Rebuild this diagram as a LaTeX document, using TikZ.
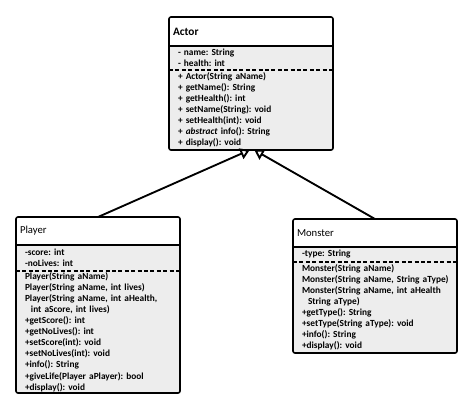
\documentclass[tikz,border=0pt]{standalone}
\usepackage{fontspec}
\setmainfont{Carlito}
\usetikzlibrary{positioning,arrows.meta}
\pgfdeclarelayer{background}
\pgfdeclarelayer{foreground}
\pgfsetlayers{background,main,foreground}
\frenchspacing
\tikzstyle{classname} = [anchor=north west, fill=white, text width=117pt,
  inner xsep=3pt, inner ysep=0pt, outer sep=0pt, minimum height=21pt,
  align=left, font=\fontsize{8}{9.6}\selectfont]
\tikzstyle{members} = [text width=118pt, inner xsep=6.75pt,
  inner ysep=0pt, outer sep=0pt, align=left,
  font=\fontsize{7}{8.3}\selectfont\bfseries]
\tikzstyle{frame} = [draw, line width=1.2pt, rounded corners=1.5pt]
\tikzstyle{sepline} = [draw, line width=1.3pt, dash pattern=on 3pt off 1.8pt]
\tikzstyle{inherit} = [draw, line width=1.4pt,
  -{Triangle[open, length=7pt, width=8.5pt]}]
\newcommand{\classframe}[3]{%
  \begin{pgfonlayer}{background}
    % grey body of the class box
    \path[fill=black!7] (#1.south west) rectangle (#1.east |- #3.south);
  \end{pgfonlayer}
  \begin{pgfonlayer}{foreground}
    % outline of the whole class box
    \path[frame] (#1.north west) rectangle (#1.east |- #3.south);
    % line under the class name
    \path[frame, rounded corners=0pt] (#1.south west) -- (#1.south east);
    % dashed line between attributes and operations
    \path[sepline] (#2.south west) -- (#1.east |- #2.south);
  \end{pgfonlayer}}

\begin{document}
\begin{tikzpicture}[x=0.75pt, y=-0.75pt]
  \useasboundingbox (0,0) rectangle (474,412);

  % Draw class boxes
  % base class
  \node[classname, minimum height=21.75pt] (actor) at (169,17)
    {\fontsize{8.5}{10}\selectfont\textbf{Actor}};
  \node[members, minimum height=18pt, below right=0pt and 0pt of actor.south west]
    (actorattr) {- name: String\\- health: int};
  \node[members, minimum height=60pt, below right=0pt and 0pt of actorattr.south west]
    (actorops)
    {+ Actor(String aName)\\+ getName(): String\\+ getHealth(): int\\
     + setName(String): void\\+ setHealth(int): void\\
     + \textit{abstract} info(): String\\+ display(): void};

  % player class
  \node[classname] (player) at (16,217) {Player};
  \node[members, minimum height=19.5pt, below right=0pt and 0pt of player.south west]
    (playerattr) {-score: int\\-noLives: int};
  \node[members, minimum height=91.5pt, below right=0pt and 0pt of playerattr.south west]
    (playerops)
    {Player(String aName)\\Player(String aName, int lives)\\
     Player(String aName, int aHealth,\\\hspace*{4.5pt}int aScore, int lives)\\
     +getScore(): int\\+getNoLives(): int\\+setScore(int): void\\
     +setNoLives(int): void\\+info(): String\\
     +giveLife(Player aPlayer): bool\\+display(): void};

  % monster class
  \node[classname] (monster) at (293,219) {Monster};
  \node[members, minimum height=11.25pt, below right=0pt and 0pt of monster.south west]
    (monsterattr) {-type: String};
  \node[members, minimum height=68.25pt, below right=0pt and 0pt of monsterattr.south west]
    (monsterops)
    {Monster(String aName)\\Monster(String aName, String aType)\\
     Monster(String aName, int aHealth\\\hspace*{4.5pt}String aType)\\
     +getType(): String\\+setType(String aType): void\\
     +info(): String\\+display(): void};

  % Draw frames and separators
  \classframe{actor}{actorattr}{actorops}
  \classframe{player}{playerattr}{playerops}
  \classframe{monster}{monsterattr}{monsterops}

  % Draw inheritance arrows
  \path[inherit] (player.north) -- ([xshift=-1pt]actor.center |- actorops.south);
  \path[inherit] (monster.north) -- ([xshift=2.5pt]actor.center |- actorops.south);

\end{tikzpicture}
\end{document}
